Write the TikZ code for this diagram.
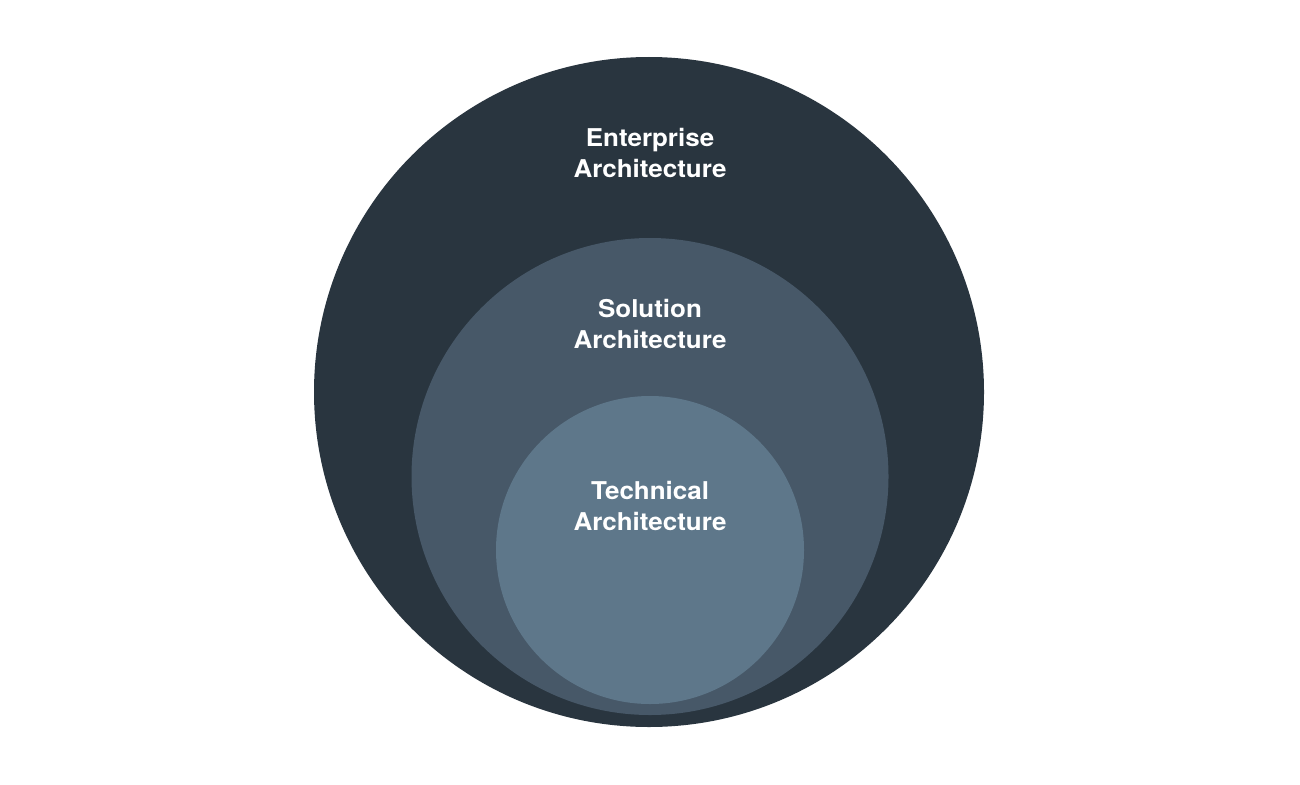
\documentclass[tikz,border=0pt]{standalone}
\usepackage{fontspec}
\setmainfont{TeX Gyre Heros}[FakeStretch=1.06]
\definecolor{outerc}{RGB}{41,53,63}
\definecolor{midc}{RGB}{71,88,104}
\definecolor{innerc}{RGB}{94,119,138}
\begin{document}
\begin{tikzpicture}[x=1pt,y=-1pt,
  ring/.style={circle,inner sep=0pt,draw=none},
  lbl/.style={text=white,font=\fontsize{24.5}{31}\selectfont\bfseries,align=center,inner sep=0pt}]
\useasboundingbox (0,0) rectangle (1300,784);
\fill[white] (0,0) rectangle (1300,784);
\node[ring,fill=outerc,minimum size=670pt] (outer) at (649,392) {};
\node[ring,fill=midc,minimum size=477pt] (mid) at (650,476.5) {};
\node[ring,fill=innerc,minimum size=308pt] (inner) at (650,550) {};
\node[lbl] (tEA) at (650,152.5) {Enterprise\\Architecture};
\node[lbl] (tSA) at (650,323.5) {Solution\\Architecture};
\node[lbl] (tTA) at (650,505.5) {Technical\\Architecture};
\end{tikzpicture}
\end{document}
